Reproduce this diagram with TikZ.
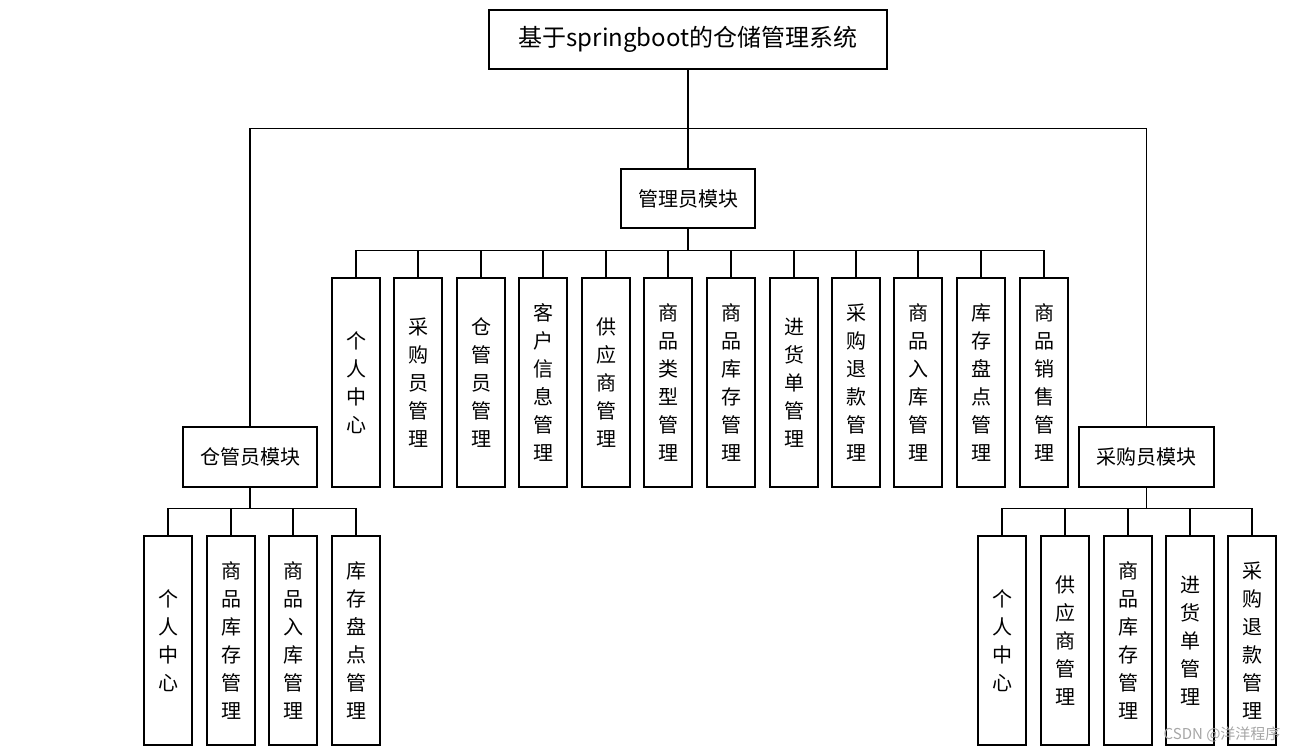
\documentclass[tikz,border=0pt]{standalone}
\usepackage{fontspec}
\setmainfont{Liberation Serif}
\newfontfamily\cjk{Noto Sans CJK SC}
\begin{document}
\begin{tikzpicture}[x=1pt,y=-1pt,
  box/.style={draw,line width=1.2pt,inner sep=0pt,font=\cjk\fontsize{20}{24}\selectfont},
  leaf/.style={box,minimum width=48pt,minimum height=209pt,align=center,font=\cjk\fontsize{20}{28}\selectfont},
  conn/.style={line width=1.2pt}]
\useasboundingbox (0,0) rectangle (1298,752);
\node[box,minimum width=398pt,minimum height=59pt,font=\cjk\fontsize{24}{28}\selectfont] (root) at (688,39.5) {基于springboot的仓储管理系统};
\node[box,minimum width=134pt,minimum height=59pt] (adm) at (688,198.5) {管理员模块};
\node[box,minimum width=134pt,minimum height=60pt] (wh) at (250,457) {仓管员模块};
\node[box,minimum width=135pt,minimum height=60pt] (pu) at (1146.5,457) {采购员模块};
\draw[conn] (root.south) -- (adm.north);
\draw[conn] (root.south) -- ++(0,59) -| (wh.north);
\draw[conn] (root.south) -- ++(0,59) -| (pu.north);
\foreach \x/\t [count=\i] in {356/个\\人\\中\\心,418/采\\购\\员\\管\\理,481/仓\\管\\员\\管\\理,543/客\\户\\信\\息\\管\\理,606/供\\应\\商\\管\\理,668/商\\品\\类\\型\\管\\理,731/商\\品\\库\\存\\管\\理,794/进\\货\\单\\管\\理,856/采\\购\\退\\款\\管\\理,918/商\\品\\入\\库\\管\\理,981/库\\存\\盘\\点\\管\\理,1044/商\\品\\销\\售\\管\\理}{
  \node[leaf] (a\i) at (\x,382.5) {\t};
  \draw[conn] (adm.south) -- ++(0,22) -| (a\i.north);
}
\foreach \x/\t [count=\i] in {168/个\\人\\中\\心,231/商\\品\\库\\存\\管\\理,293/商\\品\\入\\库\\管\\理,356/库\\存\\盘\\点\\管\\理}{
  \node[leaf] (b\i) at (\x,640.5) {\t};
  \draw[conn] (wh.south) -- ++(0,21) -| (b\i.north);
}
\foreach \x/\t [count=\i] in {1002/个\\人\\中\\心,1065/供\\应\\商\\管\\理,1128/商\\品\\库\\存\\管\\理,1190/进\\货\\单\\管\\理,1252/采\\购\\退\\款\\管\\理}{
  \node[leaf] (c\i) at (\x,640.5) {\t};
  \draw[conn] (pu.south) -- ++(0,21) -| (c\i.north);
}
\node[font=\cjk\fontsize{15}{17}\selectfont,text=gray!70,anchor=east] (wm) at (1284,734) {CSDN @洋洋程序};
\end{tikzpicture}
\end{document}
